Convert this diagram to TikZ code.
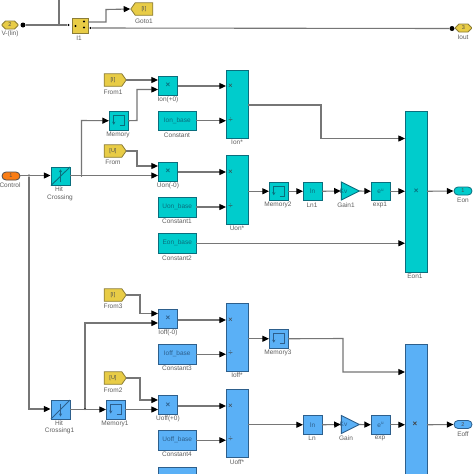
\documentclass[tikz,border=0pt]{standalone}
\usepackage{fontspec}
\setmainfont{Liberation Sans}
\usetikzlibrary{arrows.meta,shapes.geometric,shapes.misc,shapes.symbols,calc}
\definecolor{tealf}{RGB}{0,204,204}
\definecolor{teald}{RGB}{10,110,125}
\definecolor{bluef}{RGB}{90,176,246}
\definecolor{blued}{RGB}{45,95,140}
\definecolor{yelf}{RGB}{232,204,70}
\definecolor{yeld}{RGB}{140,125,55}
\definecolor{orf}{RGB}{250,125,20}
\definecolor{wire}{RGB}{118,118,118}
\definecolor{txt}{RGB}{95,95,95}
\tikzset{
  x=1pt,y=-1pt,
  tb/.style={draw=teald,fill=tealf,line width=0.9pt,inner sep=0pt,outer sep=0pt,text=teald,font=\fontsize{6.5}{7}\selectfont},
  bb/.style={draw=blued,fill=bluef,line width=0.9pt,inner sep=0pt,outer sep=0pt,text=blued,font=\fontsize{6.5}{7}\selectfont},
  lab/.style={text=txt,font=\fontsize{6.5}{7}\selectfont,inner sep=0pt},
  sym/.style={inner sep=0pt,font=\fontsize{8}{8}\selectfont,text=black!75},
  wirep/.style={draw=wire,line width=1.1pt},
  arr/.style={wirep,-{Triangle[length=6.5pt,width=6pt,fill=black,color=black]},shorten >=0.6pt},
  fromsty/.style={draw=yeld,fill=yelf,line width=0.8pt,shape=signal,signal to=east,signal pointer angle=110,inner sep=0pt,outer sep=0pt,minimum width=22pt,minimum height=12.5pt,text=black!70,font=\fontsize{5.5}{6}\selectfont},
  gotosty/.style={fromsty,signal to=west},
  yport/.style={draw=yeld,fill=yelf,line width=0.8pt,shape=chamfered rectangle,chamfered rectangle xsep=3pt,chamfered rectangle ysep=4pt,inner sep=0pt,outer sep=0pt,minimum width=16pt,minimum height=8pt,text=black!70,font=\fontsize{5.5}{6}\selectfont},
  oport/.style={draw=black!70,fill=orf,line width=0.8pt,shape=rounded rectangle,inner sep=0pt,outer sep=0pt,minimum width=18pt,minimum height=8pt,text=black!70,font=\fontsize{5.5}{6}\selectfont},
  tport/.style={oport,draw=teald,fill=tealf},
  bport/.style={oport,draw=blued,fill=bluef},
  dotp/.style={circle,fill=black,inner sep=0pt,minimum size=5pt},
  jn/.style={circle,fill=black,inner sep=0pt,minimum size=2.2pt},
  tgain/.style={tb,shape=isosceles triangle,isosceles triangle stretches,shape border rotate=0,minimum width=18pt,minimum height=18pt,anchor=center},
  bgain/.style={tgain,draw=blued,fill=bluef,text=blued},
  icon/.style={line width=0.9pt},
}
\newcommand\blk[7]{%
  \pgfmathsetlengthmacro\bw{(#5)-(#3)}\pgfmathsetlengthmacro\bh{(#6)-(#4)}%
  \node[#1,minimum width=\bw,minimum height=\bh] (#2) at ({((#3)+(#5))/2},{((#4)+(#6))/2}) {#7};}
\newcommand\lab[4]{\node[lab] (#1) at (#2,#3) {#4};}
\newcommand\memicon[2]{%
  \draw[icon,draw=#2,-{Stealth[length=3pt,width=3pt]}] ($(#1.center)+(1,5)$) -- ($(#1.center)+(5.5,5)$) -- ($(#1.center)+(5.5,-5)$) -- ($(#1.center)+(-5,-5)$) -- ($(#1.center)+(-5,4)$);}
\newcommand\hiticon[3]{%
  \draw[icon,draw=#3] (#1.south west) -- (#1.north east);
  \draw[icon,draw=#3,-{Stealth[length=3pt,width=3pt]}] ($(#1.center)+(0,#2*-6)$) -- ($(#1.center)+(0,#2*7)$);}
\begin{document}
\begin{tikzpicture}
\useasboundingbox (0,0) rectangle (474,474);
\clip (0,0) rectangle (474,474);
\fill[white] (0,0) rectangle (474,474);

% ---- top strip
\node[yport] (vlin) at (10,25) {2};
\lab{vlin-l}{10}{34}{V-(lin)}
\node[dotp] (vdot) at (23,25) {};
\blk{draw=yeld,fill=yelf,line width=0.9pt,inner sep=0pt,outer sep=0pt}{ione}{72.5}{18}{88}{33}{}
\lab{ione-l}{79}{38}{I1}
\node[gotosty] (gotoa) at (144,9) {[I]};
\lab{gotoa-l}{144}{21}{Goto1}
\node[jn] (itap) at (90.5,28) {};
\node[dotp] (idot) at (452,28.5) {};
\node[yport] (iout) at (463.5,28) {3};
\lab{iout-l}{463}{37}{Iout}
\coordinate (topin) at (59,-2);
\node[jn] (vj) at (59,25) {};
\node[jn] (vk) at (68.5,25) {};
\draw[wirep] (vdot) -- (vk);
\draw[wirep] (topin) -- (vj);
\draw[wirep] (itap) -- (idot);
\draw[arr] (ione.east |- 0,22) -- (106,22) -- (106,9.5) -- (gotoa.west);
\node[jn] (ia) at (75.5,26) {};
\node[jn] (ib) at (84,21.5) {};
\node[jn] (ic) at (84,27.5) {};

% ---- teal part
\node[fromsty] (froma) at (113,80) {[I]};
\lab{froma-l}{113}{92}{From1}
\blk{tb}{ionz}{158.5}{76}{177.5}{95}{\fontsize{8}{8}\selectfont\textbf{×}}
\lab{ionz-l}{168}{100}{Ion(+0)}
\blk{tb}{mema}{109.5}{111.5}{128}{130}{}
\memicon{mema}{teald}
\lab{mema-l}{118}{135}{Memory}
\blk{tb}{cona}{158.5}{111}{196}{130.5}{Ion\_base}
\lab{cona-l}{177}{135}{Constant}
\blk{tb}{ions}{226.5}{70}{248}{138}{}
\lab{ions-l}{237}{142.5}{Ion*}
\node[sym] (ionsx) at (230.5,86) {×};
\node[sym] (ionsd) at (230.5,120) {÷};
\node[fromsty] (fromb) at (113,151) {[U]};
\lab{fromb-l}{113}{162}{From}
\blk{tb}{uonz}{158.5}{162}{177.5}{181}{\fontsize{8}{8}\selectfont\textbf{×}}
\lab{uonz-l}{168}{186}{Uon(-0)}
\blk{tb}{hita}{51}{167}{70}{185.5}{}
\hiticon{hita}{-1}{teald}
\lab{hita-l}{59}{189.5}{Hit}
\lab{hita-m}{60}{197.5}{Crossing}
\node[oport] (ctrl) at (11,176) {1};
\lab{ctrl-l}{10}{185}{Control}
\node[jn] (cj) at (29,175.5) {};
\node[jn] (hj) at (81.5,175.5) {};
\blk{tb}{uons}{226.5}{155.5}{248}{224}{}
\lab{uons-l}{237}{228.5}{Uon*}
\node[sym] (uonsx) at (230.5,172) {×};
\node[sym] (uonsd) at (230.5,206) {÷};
\blk{tb}{conb}{158.5}{197}{196}{217}{Uon\_base}
\lab{conb-l}{177}{221}{Constant1}
\blk{tb}{conc}{158.5}{233.5}{196}{253}{Eon\_base}
\lab{conc-l}{177}{258}{Constant2}
\blk{tb}{memb}{269.5}{182}{288}{200.5}{}
\memicon{memb}{teald}
\lab{memb-l}{278}{205}{Memory2}
\blk{tb}{lna}{303.5}{182}{322}{200.5}{ln}
\lab{lna-l}{312}{205}{Ln1}
\node[tgain] (gaina) at (346,191) {\hspace*{-5pt}Kv};
\lab{gaina-l}{346}{205}{Gain1}
\blk{tb}{expa}{371.5}{182}{390}{200.5}{e\textsuperscript{u}}
\lab{expa-l}{380}{205}{exp1}
\blk{tb}{eonb}{405.5}{111}{427}{272}{\fontsize{8}{8}\selectfont\textbf{×}}
\lab{eonb-l}{415}{276.5}{Eon1}
\node[tport] (eon) at (463,191) {1};
\lab{eon-l}{463}{200}{Eon}

\draw[arr] (froma.east) -- (ionz.west |- froma.east);
\draw[arr] (mema.east) -- (137,120.5) -- (137,89.5) -- (ionz.west |- 0,89.5);
\draw[arr] (ionz.east |- 0,86) -- (ions.west |- 0,86);
\draw[arr] (cona.east) -- (ions.west |- cona.east);
\draw[arr] (fromb.east) -- (137,151) -- (137,166) -- (uonz.west |- 0,166);
\draw[arr] (ctrl.east |- cj) -- (hita.west |- cj);
\draw[arr] (hita.east |- hj) -- (uonz.west |- hj);
\draw[arr] (hj) -- (81.5,120.5) -- (mema.west);
\draw[arr] (uonz.east |- 0,172) -- (uons.west |- 0,172);
\draw[arr] (conb.east) -- (uons.west |- conb.east);
\draw[arr] (conc.east) -- (eonb.west |- conc.east);
\draw[arr] (ions.east |- 0,105) -- (321,105) -- (321,138.5) -- (eonb.west |- 0,138.5);
\draw[arr] (uons.east |- memb) -- (memb.west);
\draw[arr] (memb.east) -- (lna.west);
\draw[arr] (lna.east) -- (gaina.west);
\draw[arr] (gaina.east) -- (expa.west);
\draw[arr] (expa.east) -- (eonb.west |- expa);
\draw[arr] (eonb.east |- expa) -- (eon.west);

% ---- blue part
\node[fromsty] (fromc) at (113,295) {[I]};
\lab{fromc-l}{113}{306.5}{From3}
\blk{bb}{ioffz}{158.5}{309}{177.5}{328}{\fontsize{8}{8}\selectfont\textbf{×}}
\lab{ioffz-l}{168}{333}{Ioff(-0)}
\blk{bb}{cond}{158.5}{344.5}{196}{364}{Ioff\_base}
\lab{cond-l}{177}{368.5}{Constant3}
\blk{bb}{ioffs}{226.5}{303}{248}{371}{}
\lab{ioffs-l}{237}{375.5}{Ioff*}
\node[sym] (ioffsx) at (230.5,320) {×};
\node[sym] (ioffsd) at (230.5,353.5) {÷};
\node[fromsty] (fromd) at (113,378) {[U]};
\lab{fromd-l}{113}{390}{From2}
\blk{bb}{hitb}{51}{400}{70}{419}{}
\hiticon{hitb}{1}{blued}
\lab{hitb-l}{59}{423.5}{Hit}
\lab{hitb-m}{59.5}{431}{Crossing1}
\blk{bb}{memc}{106.5}{400}{125}{419}{}
\memicon{memc}{blued}
\lab{memc-l}{115}{423.5}{Memory1}
\blk{bb}{uoffz}{158.5}{395.5}{177.5}{414}{\fontsize{8}{8}\selectfont\textbf{×}}
\lab{uoffz-l}{168}{419}{Uoff(+0)}
\blk{bb}{cone}{158.5}{430.5}{196}{450}{Uoff\_base}
\lab{cone-l}{177}{454.5}{Constant4}
\blk{bb}{conf}{158.5}{467}{196}{490}{}
\blk{bb}{uoffs}{226.5}{389}{248}{457.5}{}
\lab{uoffs-l}{237}{462}{Uoff*}
\node[sym] (uoffsx) at (230.5,406) {×};
\node[sym] (uoffsd) at (230.5,439.5) {÷};
\blk{bb}{memd}{269.5}{329.5}{288}{348}{}
\memicon{memd}{blued}
\lab{memd-l}{278}{352.5}{Memory3}
\blk{bb}{lnb}{303.5}{415.5}{322}{434}{ln}
\lab{lnb-l}{312}{438.5}{Ln}
\node[bgain] (gainb) at (346,424.5) {\hspace*{-5pt}Kv};
\lab{gainb-l}{346}{438.5}{Gain}
\blk{bb}{expb}{371.5}{415.5}{390}{434}{e\textsuperscript{u}}
\lab{expb-l}{380}{438.5}{exp}
\blk{bb}{eoffb}{405.5}{344.5}{427}{505}{}
\node[sym] (eoffbx) at (415,424.5) {\textbf{×}};
\node[bport] (eoff) at (463,424.5) {2};
\lab{eoff-l}{463}{434}{Eoff}
\node[jn] (hk) at (85,409) {};

\draw[arr] (cj) -- (29,409) -- (hitb.west |- 0,409);
\draw[arr] (fromc.east) -- (140,295) -- (140,313.5) -- (ioffz.west |- 0,313.5);
\draw[arr] (hk) -- (85,323) -- (ioffz.west |- 0,323);
\draw[arr] (hitb.east) -- (memc.west);
\draw[arr] (memc.east) -- (uoffz.west |- memc.east);
\draw[arr] (fromd.east) -- (140,378) -- (140,400) -- (uoffz.west |- 0,400);
\draw[arr] (ioffz.east |- ioffsx) -- (ioffs.west |- ioffsx);
\draw[arr] (cond.east) -- (ioffs.west |- cond.east);
\draw[arr] (uoffz.east |- uoffsx) -- (uoffs.west |- uoffsx);
\draw[arr] (cone.east) -- (uoffs.west |- cone.east);
\draw[arr] (ioffs.east |- memd) -- (memd.west);
\draw[arr] (memd.east) -- (343,338.5) -- (343,372) -- (eoffb.west |- 0,372);
\draw[arr] (uoffs.east |- lnb) -- (lnb.west);
\draw[arr] (lnb.east) -- (gainb.west);
\draw[arr] (gainb.east) -- (expb.west);
\draw[arr] (expb.east) -- (eoffb.west |- expb);
\draw[arr] (eoffb.east |- expb) -- (eoff.west);
\end{tikzpicture}
\end{document}
